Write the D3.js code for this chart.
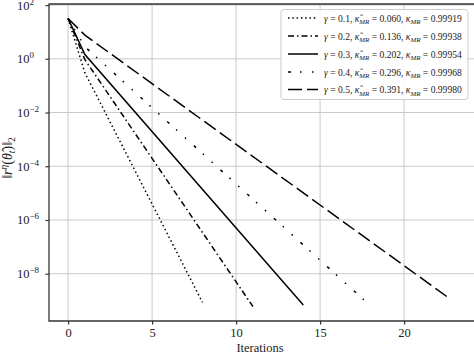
<!DOCTYPE html>
<html><head><meta charset="utf-8">
<script src="https://cdn.jsdelivr.net/npm/d3@7"></script>
<style>body{margin:0;background:#fff} svg{display:block} text{font-family:"Liberation Serif","Times New Roman",Times,"DejaVu Serif",serif;}</style>
</head><body>
<svg id="c" width="474" height="352"></svg>
<script>
// ---- data ----
const gammas = ["0.1","0.2","0.3","0.4","0.5"];
const kappaHat = ["0.060","0.136","0.202","0.296","0.391"];
const kappa = ["0.99919","0.99938","0.99954","0.99968","0.99980"];
const iterations = [
  [0, 1, 8.0],
  [0, 1, 11.0],
  [0, 1, 14.0],
  [0, 1, 17.6],
  [0, 1, 22.7]
];
const residuals = [
  [31.6, 0.30, 8.5e-10],
  [31.6, 0.93, 6.0e-10],
  [31.6, 1.45, 6.9e-10],
  [31.6, 2.8, 1.07e-9],
  [31.6, 7.6, 1.2e-9]
];
const xTicks = [0, 5, 10, 15, 20];
const yTickExps = [2, 0, -2, -4, -6, -8];

// ---- styles ----
const dashStyles = ["1.5,2.8", "6,3,1.5,3", null, "3,9,1.5,10.5,1.5,10.5", "14,5"];

const svg = d3.select("#c");
const L = 49, R = 475, T = 4, B = 321;
const x = d3.scaleLinear().domain([-1.137, 24.22]).range([L, R]);
const y = d3.scaleLog().domain([Math.pow(10, -9.76), Math.pow(10, 2.04)]).range([B, T]);

// grid
const grid = svg.append("g").attr("stroke", "#c9c9c9").attr("stroke-width", 1);
grid.selectAll("line.v").data(xTicks).join("line")
  .attr("x1", d => x(d)).attr("x2", d => x(d)).attr("y1", T).attr("y2", B);
grid.selectAll("line.h").data(yTickExps).join("line")
  .attr("x1", L).attr("x2", R).attr("y1", d => y(Math.pow(10, d))).attr("y2", d => y(Math.pow(10, d)));

// lines
svg.append("clipPath").attr("id", "clip").append("rect").attr("x", L).attr("y", T).attr("width", R - L).attr("height", B - T);
const line = d3.line().x(d => x(d[0])).y(d => y(d[1]));
const series = iterations.map((it, i) => it.map((v, j) => [v, residuals[i][j]]));
svg.append("g").attr("clip-path", "url(#clip)").selectAll("path").data(series).join("path")
  .attr("d", line).attr("fill", "none").attr("stroke", "#000").attr("stroke-width", 1.5)
  .attr("stroke-dasharray", (d, i) => dashStyles[i]);

// axes
const xa = svg.append("g").attr("transform", `translate(0,${B})`)
  .call(d3.axisBottom(x).tickValues(xTicks).tickSize(3.5).tickSizeOuter(0).tickPadding(4).tickFormat(d3.format("d")));
xa.select(".domain").remove();
xa.selectAll("line").attr("stroke", "#333").attr("stroke-width", 1.2);
xa.selectAll("text").attr("font-family", null).attr("font-size", 12.5).attr("fill", "#222");

const ya = svg.append("g").attr("transform", `translate(${L},0)`)
  .call(d3.axisLeft(y).tickValues(yTickExps.map(e => Math.pow(10, e))).tickSize(3.5).tickSizeOuter(0).tickFormat(""));
ya.select(".domain").remove();
ya.selectAll("line").attr("stroke", "#333").attr("stroke-width", 1.2);

const yl = svg.append("g").attr("fill", "#222");
yTickExps.forEach(e => {
  const t = yl.append("text").attr("x", 17).attr("y", y(Math.pow(10, e)) + 4.5).attr("font-size", 12.5);
  t.append("tspan").text("10");
  t.append("tspan").attr("dy", -5).attr("font-size", 9).text(e < 0 ? "\u2212" + (-e) : String(e));
});

// spines
svg.append("path").attr("d", `M${R},${T}H${L}V${B}H${R}`).attr("fill", "none")
  .attr("stroke", "#333").attr("stroke-width", 1.3);

// axis labels
svg.append("text").attr("x", 260).attr("y", 352).attr("text-anchor", "middle")
  .attr("font-size", 12.5).attr("fill", "#222").text("Iterations");

const ylab = svg.append("text").attr("transform", "translate(12,158) rotate(-90)")
  .attr("text-anchor", "middle").attr("font-size", 14).attr("fill", "#222");
ylab.append("tspan").text("\u2016");
ylab.append("tspan").attr("font-style", "italic").text("r");
ylab.append("tspan").attr("font-style", "italic").attr("font-size", 9.5).attr("dy", -5).text("\u03b7");
ylab.append("tspan").attr("dy", 5).text("(");
ylab.append("tspan").attr("font-style", "italic").text("\u03b8\u0302");
ylab.append("tspan").attr("font-style", "italic").attr("font-size", 9.5).attr("dy", 3).text("t");
ylab.append("tspan").attr("dy", -3).text(")\u2016");
ylab.append("tspan").attr("font-size", 9.5).attr("dy", 3).text("2");

// legend
const lg = svg.append("g");
lg.append("rect").attr("x", 281).attr("y", 9.5).attr("width", 187).attr("height", 90).attr("rx", 3)
  .attr("fill", "#fff").attr("fill-opacity", 0.9).attr("stroke", "#cccccc").attr("stroke-width", 1);
const rowY = [18, 36, 54, 72, 89.5];
function legendText(t, i, fs) {
  const ss = fs * 0.72, dd = fs * 0.25;
  t.selectAll("*").remove();
  t.attr("font-size", fs);
  t.append("tspan").attr("font-style", "italic").text("\u03b3");
  t.append("tspan").text(" = " + gammas[i] + ", ");
  t.append("tspan").attr("font-style", "italic").text("\u03ba\u0302");
  t.append("tspan").attr("font-style", "italic").attr("font-size", ss).attr("dy", dd).text("MR");
  t.append("tspan").attr("dy", -dd).text(" = " + kappaHat[i] + ", ");
  t.append("tspan").attr("font-style", "italic").text("\u03ba");
  t.append("tspan").attr("font-style", "italic").attr("font-size", ss).attr("dy", dd).text("MR");
  t.append("tspan").attr("dy", -dd).text(" = " + kappa[i]);
}
gammas.forEach((g, i) => {
  const cy = rowY[i];
  lg.append("line").attr("x1", 288).attr("x2", 318).attr("y1", cy).attr("y2", cy)
    .attr("stroke", "#000").attr("stroke-width", 1.5).attr("stroke-dasharray", dashStyles[i]);
  const t = lg.append("text").attr("x", 324).attr("y", cy + 3.8).attr("fill", "#222");
  legendText(t, i, 11);
  const len = t.node().getComputedTextLength();
  if (len > 0) legendText(t, i, Math.min(12, 11 * 138 / len));
});
</script>
</body></html>
